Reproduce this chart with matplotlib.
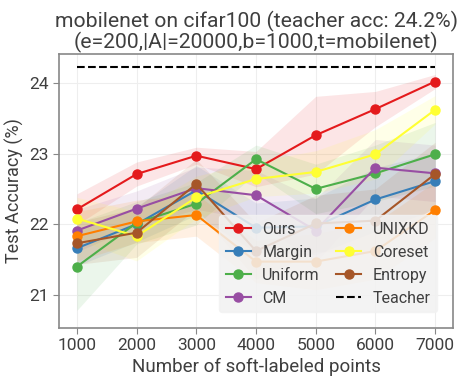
import matplotlib
matplotlib.use("Agg")
import matplotlib.pyplot as plt
import numpy as np

x = [1000, 2000, 3000, 4000, 5000, 6000, 7000]
teacher_acc = 24.22

ours = [22.21, 22.71, 22.97, 22.78, 23.26, 23.63, 24.02]
ours_std = [0.22, 0.17, 0.12, 0.25, 0.55, 0.25, 0.10]
margin = [21.66, 22.00, 22.48, 21.95, 21.97, 22.35, 22.61]
margin_std = [0.25, 0.25, 0.35, 0.35, 0.40, 0.45, 0.40]
uniform = [21.40, 22.02, 22.29, 22.92, 22.50, 22.72, 22.99]
uniform_std = [0.62, 0.30, 0.30, 0.20, 0.35, 0.40, 0.45]
cm = [21.91, 22.22, 22.51, 22.41, 21.91, 22.80, 22.72]
cm_std = [0.30, 0.25, 0.30, 0.35, 0.45, 0.40, 0.40]
unixkd = [21.83, 22.04, 22.13, 21.47, 21.47, 21.62, 22.20]
unixkd_std = [0.35, 0.30, 0.30, 0.30, 0.40, 0.40, 0.40]
coreset = [22.08, 21.83, 22.38, 22.64, 22.74, 22.99, 23.62]
coreset_std = [0.30, 0.35, 0.30, 0.25, 0.30, 0.35, 0.20]
entropy = [21.73, 21.88, 22.57, 21.62, 22.01, 22.05, 22.71]
entropy_std = [0.30, 0.35, 0.35, 0.40, 0.40, 0.45, 0.45]

series = [
    ("Ours", ours, ours_std, "#e41a1c"),
    ("Margin", margin, margin_std, "#377eb8"),
    ("Uniform", uniform, uniform_std, "#4daf4a"),
    ("CM", cm, cm_std, "#984ea3"),
    ("UNIXKD", unixkd, unixkd_std, "#ff7f00"),
    ("Coreset", coreset, coreset_std, "#ffff33"),
    ("Entropy", entropy, entropy_std, "#a65628"),
]

plt.rcParams['font.family'] = ['Roboto', 'DejaVu Sans']
text_color = "#3f3f3f"
plt.rcParams['text.color'] = text_color
plt.rcParams['axes.labelcolor'] = text_color
plt.rcParams['xtick.color'] = text_color
plt.rcParams['ytick.color'] = text_color

fig = plt.figure(figsize=(4.74, 3.84), dpi=100)
ax = fig.add_axes([0.1245, 0.1458, 0.8312, 0.7136])

for name, vals, std, col in series:
    v = np.array(vals); s = np.array(std)
    ax.fill_between(x, v - s, v + s, color=col, alpha=0.11, linewidth=0)
for name, vals, std, col in series:
    ax.plot(x, vals, marker='o', color=col, label=name, linewidth=1.5, markersize=6.5)
ax.plot(x, [teacher_acc] * len(x), '--', color='black', label='Teacher', linewidth=1.5)

ax.set_xlim(700, 7300)
ax.set_ylim(20.53, 24.41)
ax.set_xticks(x)
ax.set_yticks([21, 22, 23, 24])
ax.tick_params(labelsize=12.5, length=4, color='#888888')
ax.grid(True, color='#eeeeee', linewidth=0.8)
ax.set_axisbelow(True)
for sp in ax.spines.values():
    sp.set_color('#888888')
    sp.set_linewidth(1.2)

ax.set_xlabel("Number of soft-labeled points", fontsize=13.5, labelpad=3)
ax.set_ylabel("Test Accuracy (%)", fontsize=13)
ax.set_title("mobilenet on cifar100 (teacher acc: 24.2%)\n(e=200,|A|=20000,b=1000,t=mobilenet)",
             fontsize=15.2, linespacing=1.0, pad=4)

leg = ax.legend(ncol=2, loc='lower right', fontsize=11.5, frameon=True,
                facecolor='#f2f2f2', edgecolor='#f2f2f2', framealpha=0.85,
                borderaxespad=1.0, columnspacing=1.0, handlelength=1.6,
                handletextpad=0.7, labelspacing=0.5, borderpad=0.4)
fig.savefig("out.png", dpi=100)
